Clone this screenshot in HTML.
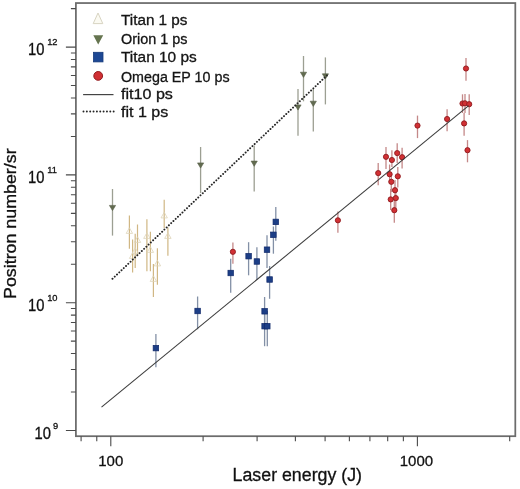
<!DOCTYPE html>
<html><head><meta charset="utf-8"><style>
html,body{margin:0;padding:0;background:#fff;}
body{width:520px;height:489px;overflow:hidden;}
svg{display:block;}
</style></head><body>
<svg width="520" height="489" viewBox="0 0 520 489">
<rect x="0" y="0" width="520" height="489" fill="#ffffff"/>
<line x1="129.4" y1="215.5" x2="129.4" y2="248.7" stroke="#d0b784" stroke-width="1.2"/>
<line x1="137.5" y1="224.5" x2="137.5" y2="256.0" stroke="#d0b784" stroke-width="1.2"/>
<line x1="135.2" y1="233.7" x2="135.2" y2="268.1" stroke="#d0b784" stroke-width="1.2"/>
<line x1="132.6" y1="239.4" x2="132.6" y2="272.6" stroke="#d0b784" stroke-width="1.2"/>
<line x1="146.9" y1="219.3" x2="146.9" y2="271.3" stroke="#d0b784" stroke-width="1.2"/>
<line x1="150.4" y1="231.8" x2="150.4" y2="271.3" stroke="#d0b784" stroke-width="1.2"/>
<line x1="153.4" y1="263.9" x2="153.4" y2="297.0" stroke="#d0b784" stroke-width="1.2"/>
<line x1="157.4" y1="248.3" x2="157.4" y2="284.7" stroke="#d0b784" stroke-width="1.2"/>
<line x1="164.2" y1="199.8" x2="164.2" y2="228.0" stroke="#d0b784" stroke-width="1.2"/>
<line x1="167.9" y1="227.5" x2="167.9" y2="255.8" stroke="#d0b784" stroke-width="1.2"/>
<polygon points="126.2,233.4 132.6,233.4 129.4,227.8" fill="none" stroke="#ddd3b8" stroke-width="0.8"/>
<polygon points="134.3,242.4 140.7,242.4 137.5,236.8" fill="none" stroke="#ddd3b8" stroke-width="0.8"/>
<polygon points="132.0,253.4 138.4,253.4 135.2,247.8" fill="none" stroke="#ddd3b8" stroke-width="0.8"/>
<polygon points="129.4,258.4 135.8,258.4 132.6,252.8" fill="none" stroke="#ddd3b8" stroke-width="0.8"/>
<polygon points="143.7,238.4 150.1,238.4 146.9,232.8" fill="none" stroke="#ddd3b8" stroke-width="0.8"/>
<polygon points="147.2,252.4 153.6,252.4 150.4,246.8" fill="none" stroke="#ddd3b8" stroke-width="0.8"/>
<polygon points="150.2,281.4 156.6,281.4 153.4,275.8" fill="none" stroke="#ddd3b8" stroke-width="0.8"/>
<polygon points="154.2,265.9 160.6,265.9 157.4,260.3" fill="none" stroke="#ddd3b8" stroke-width="0.8"/>
<polygon points="161.0,217.9 167.4,217.9 164.2,212.3" fill="none" stroke="#ddd3b8" stroke-width="0.8"/>
<polygon points="164.7,238.4 171.1,238.4 167.9,232.8" fill="none" stroke="#ddd3b8" stroke-width="0.8"/>
<line x1="112.5" y1="189.0" x2="112.5" y2="235.6" stroke="#9c9f92" stroke-width="1.3"/>
<line x1="200.6" y1="147.0" x2="200.6" y2="193.0" stroke="#9c9f92" stroke-width="1.3"/>
<line x1="254.2" y1="145.6" x2="254.2" y2="191.4" stroke="#9c9f92" stroke-width="1.3"/>
<line x1="298.0" y1="89.1" x2="298.0" y2="135.7" stroke="#9c9f92" stroke-width="1.3"/>
<line x1="303.5" y1="56.0" x2="303.5" y2="101.3" stroke="#9c9f92" stroke-width="1.3"/>
<line x1="313.3" y1="89.1" x2="313.3" y2="131.6" stroke="#9c9f92" stroke-width="1.3"/>
<line x1="325.4" y1="57.4" x2="325.4" y2="104.4" stroke="#9c9f92" stroke-width="1.3"/>
<polygon points="109.4,205.4 115.6,205.4 112.5,210.6" fill="#626b50" stroke="#585f48" stroke-width="0.6"/>
<polygon points="197.5,162.9 203.7,162.9 200.6,168.1" fill="#626b50" stroke="#585f48" stroke-width="0.6"/>
<polygon points="251.1,161.1 257.3,161.1 254.2,166.3" fill="#626b50" stroke="#585f48" stroke-width="0.6"/>
<polygon points="294.9,104.9 301.1,104.9 298.0,110.1" fill="#626b50" stroke="#585f48" stroke-width="0.6"/>
<polygon points="300.4,72.2 306.6,72.2 303.5,77.4" fill="#626b50" stroke="#585f48" stroke-width="0.6"/>
<polygon points="310.2,101.2 316.4,101.2 313.3,106.4" fill="#626b50" stroke="#585f48" stroke-width="0.6"/>
<polygon points="322.3,73.8 328.5,73.8 325.4,79.0" fill="#626b50" stroke="#585f48" stroke-width="0.6"/>
<line x1="155.9" y1="333.9" x2="155.9" y2="367.2" stroke="#8390a6" stroke-width="1.3"/>
<line x1="197.6" y1="296.5" x2="197.6" y2="329.3" stroke="#8390a6" stroke-width="1.3"/>
<line x1="230.7" y1="258.7" x2="230.7" y2="292.8" stroke="#8390a6" stroke-width="1.3"/>
<line x1="248.6" y1="242.2" x2="248.6" y2="275.3" stroke="#8390a6" stroke-width="1.3"/>
<line x1="256.9" y1="247.2" x2="256.9" y2="279.9" stroke="#8390a6" stroke-width="1.3"/>
<line x1="267.0" y1="235.3" x2="267.0" y2="268.0" stroke="#8390a6" stroke-width="1.3"/>
<line x1="269.6" y1="266.0" x2="269.6" y2="298.8" stroke="#8390a6" stroke-width="1.3"/>
<line x1="273.4" y1="226.5" x2="273.4" y2="253.7" stroke="#8390a6" stroke-width="1.3"/>
<line x1="275.8" y1="207.1" x2="275.8" y2="240.8" stroke="#8390a6" stroke-width="1.3"/>
<line x1="264.6" y1="297.0" x2="264.6" y2="326.0" stroke="#8390a6" stroke-width="1.3"/>
<line x1="264.6" y1="311.0" x2="264.6" y2="346.2" stroke="#8390a6" stroke-width="1.3"/>
<line x1="267.3" y1="311.0" x2="267.3" y2="346.2" stroke="#8390a6" stroke-width="1.3"/>
<rect x="153.15" y="345.35" width="5.5" height="5.5" fill="#1c3e86" stroke="#10286a" stroke-width="0.7"/>
<rect x="194.85" y="308.25" width="5.5" height="5.5" fill="#1c3e86" stroke="#10286a" stroke-width="0.7"/>
<rect x="227.95" y="270.25" width="5.5" height="5.5" fill="#1c3e86" stroke="#10286a" stroke-width="0.7"/>
<rect x="245.85" y="253.45" width="5.5" height="5.5" fill="#1c3e86" stroke="#10286a" stroke-width="0.7"/>
<rect x="254.15" y="258.75" width="5.5" height="5.5" fill="#1c3e86" stroke="#10286a" stroke-width="0.7"/>
<rect x="264.25" y="246.95" width="5.5" height="5.5" fill="#1c3e86" stroke="#10286a" stroke-width="0.7"/>
<rect x="266.85" y="276.75" width="5.5" height="5.5" fill="#1c3e86" stroke="#10286a" stroke-width="0.7"/>
<rect x="270.65" y="232.05" width="5.5" height="5.5" fill="#1c3e86" stroke="#10286a" stroke-width="0.7"/>
<rect x="273.05" y="219.15" width="5.5" height="5.5" fill="#1c3e86" stroke="#10286a" stroke-width="0.7"/>
<rect x="261.85" y="308.55" width="5.5" height="5.5" fill="#1c3e86" stroke="#10286a" stroke-width="0.7"/>
<rect x="261.85" y="323.45" width="5.5" height="5.5" fill="#1c3e86" stroke="#10286a" stroke-width="0.7"/>
<rect x="264.55" y="323.45" width="5.5" height="5.5" fill="#1c3e86" stroke="#10286a" stroke-width="0.7"/>
<line x1="232.9" y1="242.5" x2="232.9" y2="263.7" stroke="#c48888" stroke-width="1.3"/>
<line x1="337.9" y1="211.6" x2="337.9" y2="232.7" stroke="#c48888" stroke-width="1.3"/>
<line x1="378.2" y1="162.9" x2="378.2" y2="185.2" stroke="#c48888" stroke-width="1.3"/>
<line x1="386.0" y1="147.0" x2="386.0" y2="169.0" stroke="#c48888" stroke-width="1.3"/>
<line x1="391.9" y1="150.2" x2="391.9" y2="167.0" stroke="#c48888" stroke-width="1.3"/>
<line x1="397.2" y1="143.3" x2="397.2" y2="163.0" stroke="#c48888" stroke-width="1.3"/>
<line x1="402.1" y1="147.8" x2="402.1" y2="168.6" stroke="#c48888" stroke-width="1.3"/>
<line x1="389.6" y1="164.5" x2="389.6" y2="184.0" stroke="#c48888" stroke-width="1.3"/>
<line x1="397.8" y1="167.0" x2="397.8" y2="187.4" stroke="#c48888" stroke-width="1.3"/>
<line x1="391.3" y1="172.0" x2="391.3" y2="192.0" stroke="#c48888" stroke-width="1.3"/>
<line x1="395.0" y1="180.0" x2="395.0" y2="200.0" stroke="#c48888" stroke-width="1.3"/>
<line x1="390.7" y1="189.0" x2="390.7" y2="210.0" stroke="#c48888" stroke-width="1.3"/>
<line x1="395.8" y1="188.0" x2="395.8" y2="208.0" stroke="#c48888" stroke-width="1.3"/>
<line x1="394.3" y1="199.0" x2="394.3" y2="222.8" stroke="#c48888" stroke-width="1.3"/>
<line x1="417.5" y1="115.6" x2="417.5" y2="138.1" stroke="#c48888" stroke-width="1.3"/>
<line x1="447.1" y1="109.2" x2="447.1" y2="131.2" stroke="#c48888" stroke-width="1.3"/>
<line x1="466.0" y1="58.1" x2="466.0" y2="80.8" stroke="#c48888" stroke-width="1.3"/>
<line x1="462.5" y1="94.3" x2="462.5" y2="113.0" stroke="#c48888" stroke-width="1.3"/>
<line x1="465.0" y1="94.0" x2="465.0" y2="113.0" stroke="#c48888" stroke-width="1.3"/>
<line x1="469.2" y1="94.3" x2="469.2" y2="115.0" stroke="#c48888" stroke-width="1.3"/>
<line x1="464.1" y1="113.0" x2="464.1" y2="135.8" stroke="#c48888" stroke-width="1.3"/>
<line x1="467.5" y1="140.1" x2="467.5" y2="162.3" stroke="#c48888" stroke-width="1.3"/>
<circle cx="232.9" cy="251.8" r="2.6" fill="#d23034" stroke="#8e1b1e" stroke-width="0.9"/>
<circle cx="337.9" cy="220.3" r="2.6" fill="#d23034" stroke="#8e1b1e" stroke-width="0.9"/>
<circle cx="378.2" cy="173.1" r="2.6" fill="#d23034" stroke="#8e1b1e" stroke-width="0.9"/>
<circle cx="386.0" cy="156.8" r="2.6" fill="#d23034" stroke="#8e1b1e" stroke-width="0.9"/>
<circle cx="391.9" cy="160.0" r="2.6" fill="#d23034" stroke="#8e1b1e" stroke-width="0.9"/>
<circle cx="397.2" cy="153.1" r="2.6" fill="#d23034" stroke="#8e1b1e" stroke-width="0.9"/>
<circle cx="402.1" cy="157.2" r="2.6" fill="#d23034" stroke="#8e1b1e" stroke-width="0.9"/>
<circle cx="389.6" cy="174.2" r="2.6" fill="#d23034" stroke="#8e1b1e" stroke-width="0.9"/>
<circle cx="397.8" cy="176.3" r="2.6" fill="#d23034" stroke="#8e1b1e" stroke-width="0.9"/>
<circle cx="391.3" cy="181.8" r="2.6" fill="#d23034" stroke="#8e1b1e" stroke-width="0.9"/>
<circle cx="395.0" cy="190.2" r="2.6" fill="#d23034" stroke="#8e1b1e" stroke-width="0.9"/>
<circle cx="390.7" cy="199.4" r="2.6" fill="#d23034" stroke="#8e1b1e" stroke-width="0.9"/>
<circle cx="395.8" cy="198.1" r="2.6" fill="#d23034" stroke="#8e1b1e" stroke-width="0.9"/>
<circle cx="394.3" cy="210.2" r="2.6" fill="#d23034" stroke="#8e1b1e" stroke-width="0.9"/>
<circle cx="417.5" cy="125.6" r="2.6" fill="#d23034" stroke="#8e1b1e" stroke-width="0.9"/>
<circle cx="447.1" cy="119.0" r="2.6" fill="#d23034" stroke="#8e1b1e" stroke-width="0.9"/>
<circle cx="466.0" cy="68.5" r="2.6" fill="#d23034" stroke="#8e1b1e" stroke-width="0.9"/>
<circle cx="462.5" cy="103.5" r="2.6" fill="#d23034" stroke="#8e1b1e" stroke-width="0.9"/>
<circle cx="465.0" cy="103.3" r="2.6" fill="#d23034" stroke="#8e1b1e" stroke-width="0.9"/>
<circle cx="469.2" cy="104.2" r="2.6" fill="#d23034" stroke="#8e1b1e" stroke-width="0.9"/>
<circle cx="464.1" cy="123.4" r="2.6" fill="#d23034" stroke="#8e1b1e" stroke-width="0.9"/>
<circle cx="467.5" cy="150.2" r="2.6" fill="#d23034" stroke="#8e1b1e" stroke-width="0.9"/>
<line x1="101.5" y1="407.2" x2="468.7" y2="105.7" stroke="#3c3c3c" stroke-width="1.05"/>
<line x1="112.5" y1="278.8" x2="327.2" y2="75.2" stroke="#262626" stroke-width="1.95" stroke-dasharray="0.01 3.1" stroke-linecap="round"/>
<rect x="75.9" y="3.05" width="439.4" height="433.15" fill="none" stroke="#6c6c6c" stroke-width="1.75"/>
<path d="M65.9,430.50H75.9 M70.9,392.03H75.9 M70.9,369.52H75.9 M70.9,353.56H75.9 M70.9,341.17H75.9 M70.9,331.05H75.9 M70.9,322.50H75.9 M70.9,315.09H75.9 M70.9,308.55H75.9 M65.9,302.70H75.9 M70.9,264.23H75.9 M70.9,241.72H75.9 M70.9,225.76H75.9 M70.9,213.37H75.9 M70.9,203.25H75.9 M70.9,194.70H75.9 M70.9,187.29H75.9 M70.9,180.75H75.9 M65.9,174.90H75.9 M70.9,136.43H75.9 M70.9,113.92H75.9 M70.9,97.96H75.9 M70.9,85.57H75.9 M70.9,75.45H75.9 M70.9,66.90H75.9 M70.9,59.49H75.9 M70.9,52.95H75.9 M65.9,47.10H75.9 M70.9,8.63H75.9 M81.09,436.2V441.2 M96.77,436.2V441.2 M110.80,436.2V446.2 M203.10,436.2V441.2 M257.09,436.2V441.2 M295.39,436.2V441.2 M325.10,436.2V441.2 M349.38,436.2V441.2 M369.91,436.2V441.2 M387.69,436.2V441.2 M403.37,436.2V441.2 M417.40,436.2V446.2 M509.70,436.2V441.2" stroke="#4a4a4a" stroke-width="1.1" fill="none"/>
<text font-family="Liberation Sans, Arial, sans-serif" fill="#111" stroke="#111" stroke-width="0.3" x="47.2" y="45.3" font-size="9.3">12</text>
<text font-family="Liberation Sans, Arial, sans-serif" fill="#111" stroke="#111" stroke-width="0.3" x="28.1" y="55.1" font-size="16.2" textLength="16.4" lengthAdjust="spacingAndGlyphs">10</text>
<text font-family="Liberation Sans, Arial, sans-serif" fill="#111" stroke="#111" stroke-width="0.3" x="47.2" y="173.1" font-size="9.3">11</text>
<text font-family="Liberation Sans, Arial, sans-serif" fill="#111" stroke="#111" stroke-width="0.3" x="28.1" y="182.9" font-size="16.2" textLength="16.4" lengthAdjust="spacingAndGlyphs">10</text>
<text font-family="Liberation Sans, Arial, sans-serif" fill="#111" stroke="#111" stroke-width="0.3" x="47.2" y="300.9" font-size="9.3">10</text>
<text font-family="Liberation Sans, Arial, sans-serif" fill="#111" stroke="#111" stroke-width="0.3" x="28.1" y="310.7" font-size="16.2" textLength="16.4" lengthAdjust="spacingAndGlyphs">10</text>
<text font-family="Liberation Sans, Arial, sans-serif" fill="#111" stroke="#111" stroke-width="0.3" x="52.9" y="429.3" font-size="9.3">9</text>
<text font-family="Liberation Sans, Arial, sans-serif" fill="#111" stroke="#111" stroke-width="0.3" x="34.5" y="438.5" font-size="16.2" textLength="16.4" lengthAdjust="spacingAndGlyphs">10</text>
<text font-family="Liberation Sans, Arial, sans-serif" fill="#111" stroke="#111" stroke-width="0.3" text-anchor="middle" x="110.8" y="465.8" font-size="15">100</text>
<text font-family="Liberation Sans, Arial, sans-serif" fill="#111" stroke="#111" stroke-width="0.3" text-anchor="middle" x="416.4" y="465.8" font-size="15">1000</text>
<text font-family="Liberation Sans, Arial, sans-serif" fill="#111" stroke="#111" stroke-width="0.3" x="232.6" y="481.2" font-size="17.6" textLength="129.4" lengthAdjust="spacingAndGlyphs">Laser energy (J)</text>
<text font-family="Liberation Sans, Arial, sans-serif" fill="#111" stroke="#111" stroke-width="0.3" transform="translate(16.0,299.0) rotate(-90)" x="0" y="0" font-size="17" textLength="150.6" lengthAdjust="spacingAndGlyphs">Positron number/sr</text>
<text font-family="Liberation Sans, Arial, sans-serif" fill="#151515" stroke="#151515" stroke-width="0.3" x="121.0" y="24.9" font-size="14" textLength="66.5" lengthAdjust="spacingAndGlyphs">Titan 1 ps</text>
<text font-family="Liberation Sans, Arial, sans-serif" fill="#151515" stroke="#151515" stroke-width="0.3" x="121.0" y="44.0" font-size="14" textLength="66.5" lengthAdjust="spacingAndGlyphs">Orion 1 ps</text>
<text font-family="Liberation Sans, Arial, sans-serif" fill="#151515" stroke="#151515" stroke-width="0.3" x="121.0" y="62.3" font-size="14" textLength="75.8" lengthAdjust="spacingAndGlyphs">Titan 10 ps</text>
<text font-family="Liberation Sans, Arial, sans-serif" fill="#151515" stroke="#151515" stroke-width="0.3" x="121.0" y="81.9" font-size="14" textLength="108.6" lengthAdjust="spacingAndGlyphs">Omega EP 10 ps</text>
<text font-family="Liberation Sans, Arial, sans-serif" fill="#151515" stroke="#151515" stroke-width="0.3" x="121.0" y="99.2" font-size="14" textLength="51.9" lengthAdjust="spacingAndGlyphs">fit10 ps</text>
<text font-family="Liberation Sans, Arial, sans-serif" fill="#151515" stroke="#151515" stroke-width="0.3" x="121.0" y="117.1" font-size="14" textLength="47.3" lengthAdjust="spacingAndGlyphs">fit 1 ps</text>
<polygon points="93.2,23.6 102.8,23.6 98,13" fill="#fbfaf2" stroke="#d8d4c2" stroke-width="1"/>
<polygon points="93.3,35.3 103.2,35.3 98.2,44.6" fill="#65744f"/>
<rect x="93.5" y="52.3" width="9.5" height="9.6" fill="#1d4894" stroke="#153a7a" stroke-width="0.8"/>
<circle cx="98.2" cy="75.9" r="4.4" fill="#d03034" stroke="#931c1f" stroke-width="1"/>
<line x1="83.1" y1="94.6" x2="113.5" y2="94.6" stroke="#444" stroke-width="1.2"/>
<line x1="83.5" y1="111.4" x2="114.2" y2="111.4" stroke="#262626" stroke-width="1.95" stroke-dasharray="0.01 3.34" stroke-linecap="round"/>
</svg>
</body></html>
